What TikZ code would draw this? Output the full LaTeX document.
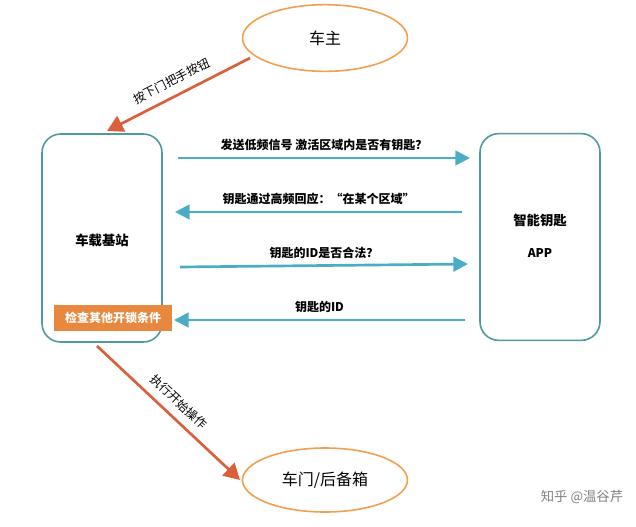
\documentclass[tikz,border=0pt]{standalone}
\usepackage{fontspec}
\newfontfamily\cjk{Noto Sans CJK SC}
\usetikzlibrary{shapes.geometric,arrows.meta}
\definecolor{teal1}{HTML}{4F9A9F}
\definecolor{org}{HTML}{F0A050}
\definecolor{blu}{HTML}{4BACC6}
\definecolor{redo}{HTML}{D9603B}
\definecolor{lab}{HTML}{E8883E}
\begin{document}
\begin{tikzpicture}[x=0.75pt,y=-0.75pt,font=\cjk,
  ell/.style={ellipse,draw=org,line width=1.2pt,minimum width=123.75pt,minimum height=50pt,font=\cjk\large},
  box/.style={draw=teal1,line width=1.2pt,rounded corners=14pt,minimum width=90pt,minimum height=156pt},
  barr/.style={draw=blu,line width=2pt,-{Triangle[length=11pt,width=11pt]}},
  rarr/.style={draw=redo,line width=2pt,-{Triangle[length=12pt,width=13pt]}},
  lbl/.style={font=\cjk\bfseries\small,above=1pt}]
\useasboundingbox (0,0) rectangle (636,526);
\node[ell] (owner) at (325,38) {车主};
\node[ell,minimum height=48pt] (door) at (325,480) {车门/后备箱};
\node[box] (base) at (102,238) {};
\node[box,minimum height=155pt] (key) at (540,237) {};
\node[font=\cjk\bfseries] (baset) at (102,240) {车载基站};
\node[font=\cjk\bfseries] (keyt) at (540,220) {智能钥匙};
\node[font=\cjk\bfseries\small] (app) at (540,253) {APP};
\node[fill=lab,text=white,font=\cjk\bfseries\small,minimum width=88pt,minimum height=20pt,inner sep=1pt] (chk) at (113,318) {检查其他开锁条件};
\coordinate (a1) at (178,158); \coordinate (b1) at (470,158);
\coordinate (a2) at (462,212); \coordinate (b2) at (175,212);
\coordinate (a3) at (180,267); \coordinate (b3) at (468,264);
\coordinate (a4) at (465,320); \coordinate (b4) at (174,320);
\draw[barr] (a1) -- node[lbl] {发送低频信号\ 激活区域内是否有钥匙？} (b1);
\draw[barr] (a2) -- node[lbl] {钥匙通过高频回应：“在某个区域”} (b2);
\draw[barr] (a3) -- node[lbl] {钥匙的ID是否合法？} (b3);
\draw[barr] (a4) -- node[lbl] {钥匙的ID} (b4);
\coordinate (r1) at (250,58); \coordinate (r2) at (107,131);
\coordinate (r3) at (97,346); \coordinate (r4) at (240,480);
\draw[rarr] (r1) -- node[sloped,above=3pt,font=\cjk\small] {按下门把手按钮} (r2);
\draw[rarr] (r3) -- node[sloped,above=3pt,font=\cjk\small] {执行开始操作} (r4);
\node[text=gray,font=\cjk\normalsize] (wm) at (582,497) {知乎 @温谷芹};
\end{tikzpicture}
\end{document}
